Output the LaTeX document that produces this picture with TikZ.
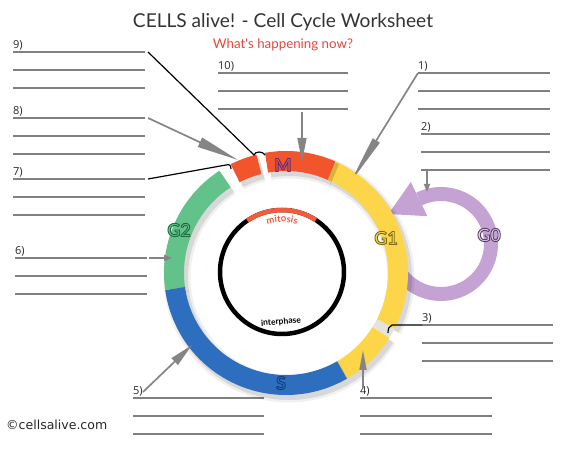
\documentclass[tikz,border=0pt]{standalone}
\usepackage{fontspec}
\setmainfont{Open Sans}
\newfontfamily\titlefont{Lato}
\newfontfamily\sitefont{DejaVu Sans}
\usetikzlibrary{arrows.meta,decorations.text}
\definecolor{mred}{HTML}{F2552C}
\definecolor{myellow}{HTML}{FDD548}
\definecolor{mblue}{HTML}{2E6EBF}
\definecolor{mgreen}{HTML}{62C28A}
\definecolor{mpurple}{HTML}{C4A2D4}
\definecolor{innerred}{HTML}{F25C3B}
\definecolor{subred}{HTML}{E2483C}
\definecolor{qgray}{HTML}{808080}
\definecolor{agray}{HTML}{858585}
\definecolor{titlegray}{HTML}{333333}
\definecolor{gapgray}{HTML}{E4E4DE}
\definecolor{ltg0}{HTML}{E3D3EA}
% outlined text: #1 = stroke rgb (pdf numbers), #2 = fill colour, #3 = text
\newcommand\outl[3]{\textcolor{#2}{\special{pdf:literal direct #1 RG 2 Tr 0.9 w}#3\special{pdf:literal direct 0 Tr 0.4 w}}}
\newcommand\qset[5]{%
  \node[qlabel] (#1) at (#2,#4+3) {#5};
  \draw[qline] (#2,#4) -- (#3,#4);
  \draw[qline] (#2,#4-18) -- (#3,#4-18);
  \draw[qline] (#2,#4-36) -- (#3,#4-36);
  \coordinate (#1s) at (#2,#4);
  \coordinate (#1e) at (#3,#4);}
\newcommand\ringseg[3]{%
  \draw[black,opacity=0.06,line width=27pt] ([shift={(3,-4)}]C) ++(#1:112) arc[start angle=#1,end angle=#2,radius=112];
  \draw[black,opacity=0.10,line width=22pt] ([shift={(3,-4)}]C) ++(#1:112) arc[start angle=#1,end angle=#2,radius=112];
  \draw[#3,line width=20pt] (C) ++(#1:112) arc[start angle=#1,end angle=#2,radius=112];}
\begin{document}
\begin{tikzpicture}[x=1pt,y=1pt,
  qline/.style={draw=qgray,line width=1.2pt},
  qlabel/.style={anchor=base west,font=\fontsize{11}{12}\selectfont,text=black!85,inner sep=0pt},
  ptrbig/.style={draw=agray,line width=1.7pt,-{Triangle[length=50pt,width=8pt]}},
  ptrmid/.style={draw=agray,line width=1.7pt,-{Triangle[length=24pt,width=9pt]}},
  ptrsmall/.style={draw=agray,line width=1.7pt,-{Triangle[length=8pt,width=6pt]}},
  blk/.style={draw=black,line width=1.2pt},
  phase/.style={font=\titlefont\bfseries\fontsize{18}{18}\selectfont,inner sep=0pt}]
\useasboundingbox (0,0) rectangle (566,450);
\coordinate (C) at (286,177);
\coordinate (IC) at (282,178);
\coordinate (G0C) at (441,206);
% titles
\node[inner sep=0pt,text=titlegray] (title) at (283,428) {\resizebox{300pt}{!}{\titlefont CELLS alive! - Cell Cycle Worksheet}};
\node[inner sep=0pt,text=subred] (sub) at (283,405) {\resizebox{140pt}{!}{\titlefont What's happening now?}};
\node[inner sep=0pt,anchor=west,text=black!85] (site) at (6,25) {\resizebox{101pt}{!}{\sitefont\textcopyright cellsalive.com}};
% question lines
\qset{q9}{13}{145}{398}{9)}
\qset{q8}{13}{145}{332}{8)}
\qset{q7}{13}{145}{271}{7)}
\qset{q6}{15}{147}{192}{6)}
\qset{q10}{218}{348}{377}{10)}
\qset{q1}{418}{550}{377}{1)}
\qset{q2}{421}{550}{316}{2)}
\qset{q3}{422}{553}{125}{3)}
\qset{q4}{360}{492}{52}{4)}
\qset{q5}{133}{264}{52}{5)}
% G0 loop
\draw[mpurple,line width=14pt] (G0C) ++(212:50) arc[start angle=212,end angle=476,radius=50];
\fill[mpurple] (388.5,236) -- (410.8,268) -- (427.4,233.8) -- cycle;
% outer ring
\ringseg{-60}{-32}{myellow}
\ringseg{-27}{66}{myellow}
\draw[gapgray,line width=20pt] (C) ++(-32:112) arc[start angle=-32,end angle=-27,radius=112];
\ringseg{66}{100}{mred}
\ringseg{104}{117}{mred}
\ringseg{123}{188}{mgreen}
\ringseg{188}{300}{mblue}
% inner circle
\draw[black,line width=4.5pt] (IC) circle[radius=62];
\draw[innerred,line width=4.5pt] (IC) ++(57:62) arc[start angle=57,end angle=124,radius=62];
\path[decorate,decoration={text along path,text align=center,
  text={|\titlefont\bfseries\fontsize{9.5}{9.5}\selectfont\color{innerred}|mitosis}}]
  (IC) ++(123:50) arc[start angle=123,end angle=57,radius=50];
\node[font=\titlefont\bfseries\fontsize{8.5}{9}\selectfont,rotate=5,inner sep=0pt] (inter) at (281,128) {interphase};
% pointer targets
\coordinate (p1) at (350,267);
\coordinate (p10) at (302,288);
\coordinate (p8) at (238,290);
\coordinate (p6) at (172,192);
\coordinate (p5) at (192,105);
\coordinate (p4) at (363,100);
\coordinate (p2) at (427,258);
\coordinate (b9) at (254,295);
\coordinate (b7) at (226,285);
\coordinate (b3) at (392,125);
% pointers
\draw[ptrbig] (q1s) -- (p1);
\draw[ptrmid] (302,338) -- (p10);
\draw[draw=agray,line width=1.7pt,-{Triangle[length=42pt,width=10pt]}] ([xshift=3pt]q8e) -- (p8);
\draw[ptrsmall] ([xshift=2pt]q6e) -- (p6);
\draw[ptrmid] (143,58) -- (p5);
\draw[draw=agray,line width=1.7pt,-{Triangle[length=20pt,width=7pt]}] (363,62) -- (p4);
\draw[ptrsmall] (427,280) -- (p2);
% brackets
\draw[blk] ([xshift=3pt]q9e) -- (b9) .. controls (255,299) and (263,299) .. (265,295);
\draw[blk] ([xshift=3pt]q7e) -- (b7) .. controls (229,286) and (231,285) .. (231,281);
\draw[blk] (q3s) -- (b3) .. controls (389,124) and (388,121) .. (388,117);
% phase labels (outlined letters), drawn last
\node[phase] (M) at (283,285) {\outl{0.37 0.16 0.53}{mred}{M}};
\node[phase] (G2) at (179,220) {\outl{0.12 0.42 0.24}{mgreen}{G2}};
\node[phase] (G1) at (386,212) {\outl{0.48 0.42 0.10}{myellow}{G1}};
\node[phase] (S) at (281,67) {\outl{0.07 0.24 0.47}{mblue}{S}};
\node[phase] (G0) at (489,215) {\outl{0.35 0.24 0.42}{ltg0}{G0}};
\end{tikzpicture}
\end{document}
